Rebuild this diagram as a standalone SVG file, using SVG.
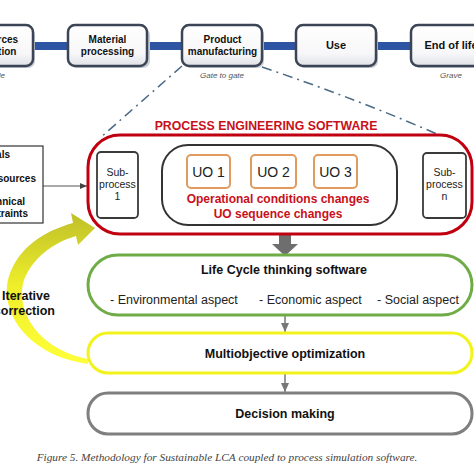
<svg xmlns="http://www.w3.org/2000/svg" width="474" height="474" viewBox="0 0 474 474">
<defs>
<linearGradient id="boxg" x1="0" y1="0" x2="0" y2="1">
<stop offset="0" stop-color="#ffffff"/>
<stop offset="0.7" stop-color="#f7f7f9"/>
<stop offset="1" stop-color="#dfe1e6"/>
</linearGradient>
<linearGradient id="yel" gradientUnits="userSpaceOnUse" x1="0" y1="218" x2="0" y2="368">
<stop offset="0" stop-color="#c2c22a"/>
<stop offset="0.45" stop-color="#eeee2a"/>
<stop offset="1" stop-color="#ffff3a"/>
</linearGradient>
<marker id="ah" markerWidth="8" markerHeight="8" refX="7" refY="4" orient="auto" markerUnits="userSpaceOnUse">
<path d="M0,1 L7,4 L0,7 Z" fill="#444"/>
</marker>
<marker id="ahg" markerWidth="10" markerHeight="10" refX="9" refY="5" orient="auto" markerUnits="userSpaceOnUse">
<path d="M0,1 L9,5 L0,9 Z" fill="#777"/>
</marker>
<marker id="aho" markerWidth="8" markerHeight="8" refX="7" refY="4" orient="auto" markerUnits="userSpaceOnUse">
<path d="M0,1 L7,4 L0,7 Z" fill="#e8914f"/>
</marker>
</defs>
<style>
text{font-family:"Liberation Sans",Arial,sans-serif;fill:#111}
.top{fill:url(#boxg);stroke:#3b4556;stroke-width:2.5}
.sh{fill:#c9ccd3}
.t10{font-size:10px;font-weight:bold}
.t11{font-size:11px;font-weight:bold}
.lab{font-size:8px;font-style:italic;fill:#555}
.sub{fill:#fff;stroke:#3a3a3a;stroke-width:1.8}
.st{font-size:10.5px;fill:#222}
.uo{fill:#fff;stroke:#e39a5f;stroke-width:2}
.uot{font-size:14px;fill:#222}
.red{fill:#c8101a;font-weight:bold}
.big{fill:#fff;stroke-width:3}
.m{font-size:12.5px;font-weight:bold}
.asp{font-size:12.5px;fill:#222}
.lft{font-size:10px;font-weight:bold}
.dd{fill:none;stroke:#4a6a86;stroke-width:1.5;stroke-dasharray:10 5 2 5}
.ln{fill:none;stroke:#555;stroke-width:1}
.cap{font-family:"Liberation Serif","Times New Roman",serif;font-style:italic;font-size:11.3px;fill:#444}
</style>

<g id="connectors">
<rect x="0" y="42" width="474" height="8" fill="#2e54a4"/>
<path class="dd" d="M182,66 L100,138"/>
<path class="dd" d="M262,67 Q360,100 446,138"/>
<path class="ln" d="M43,186 L87,186" marker-end="url(#ah)"/>
<path class="ln" d="M138,185 L161,185" marker-end="url(#ah)"/>
<path class="ln" d="M397,185 L422,185" marker-end="url(#ah)"/>
<path d="M230,172 L250,172" stroke="#e8914f" stroke-width="1.5" marker-end="url(#aho)"/>
<path d="M296,172 L313,172" stroke="#e8914f" stroke-width="1.5" marker-end="url(#aho)"/>
<polygon points="279,234 291,234 291,244 298,244 285,256 272,244 279,244" fill="#6e6e6e"/>
<path d="M285,316 L285,332" stroke="#777" stroke-width="1.5" marker-end="url(#ahg)"/>
<path d="M285,374 L285,392" stroke="#777" stroke-width="1.5" marker-end="url(#ahg)"/>
<path d="M88,364 C28,356 -2,312 9,276 C19,247 44,231 73,223 L71,213 L95,228 L78,245 L76,236 C52,243 33,258 24,280 C14,312 40,350 88,359 Z" fill="url(#yel)"/>
</g>

<g id="resources-extraction">
<rect class="sh" x="-45" y="28" width="80" height="40" rx="7"/>
<rect class="top" x="-47" y="25" width="80" height="41" rx="7"/>
<text class="t10" x="-7.5" y="43" text-anchor="middle">Resources</text>
<text class="t10" x="-7.5" y="55" text-anchor="middle">extraction</text>
<text class="lab" x="5" y="78" text-anchor="end">Cradle</text>
</g>
<g id="material-processing">
<rect class="sh" x="70" y="28" width="80" height="40" rx="7"/>
<rect class="top" x="68" y="25" width="79" height="41" rx="7"/>
<text class="t10" x="107.5" y="43" text-anchor="middle">Material</text>
<text class="t10" x="107.5" y="55" text-anchor="middle">processing</text>
</g>
<g id="product-manufacturing">
<rect class="sh" x="184" y="28" width="80" height="40" rx="7"/>
<rect class="top" x="182" y="25" width="80" height="41" rx="7"/>
<text class="t10" x="222.5" y="43" text-anchor="middle">Product</text>
<text class="t10" x="222.5" y="55" text-anchor="middle">manufacturing</text>
<text class="lab" x="222" y="78" text-anchor="middle">Gate to gate</text>
</g>
<g id="use">
<rect class="sh" x="298" y="28" width="80" height="40" rx="7"/>
<rect class="top" x="296" y="25" width="80" height="41" rx="7"/>
<text class="t11" x="336" y="49" text-anchor="middle">Use</text>
</g>
<g id="end-of-life">
<rect class="sh" x="413" y="28" width="80" height="40" rx="7"/>
<rect class="top" x="411" y="25" width="80" height="41" rx="7"/>
<text class="t11" x="451" y="49" text-anchor="middle">End of life</text>
<text class="lab" x="451" y="78" text-anchor="middle">Grave</text>
</g>

<g id="inputs">
<rect x="-20" y="146" width="63" height="77" fill="#fff" stroke="#333" stroke-width="1.2"/>
<text class="lft" x="10" y="158" text-anchor="end">Materials</text>
<text class="lft" x="36" y="182" text-anchor="end">Resources</text>
<text class="lft" x="25" y="205" text-anchor="end">Technical</text>
<text class="lft" x="28" y="217" text-anchor="end">constraints</text>
</g>

<g id="process-engineering-software">
<text class="red" x="266" y="130" font-size="12.3" text-anchor="middle">PROCESS ENGINEERING SOFTWARE</text>
<rect class="big" x="88" y="135" width="384" height="99" rx="32" stroke="#c00010"/>
</g>
<g id="sub-process-1">
<rect class="sub" x="97" y="152" width="41" height="66" rx="4"/>
<text class="st" x="117.5" y="176" text-anchor="middle">Sub-</text>
<text class="st" x="117.5" y="188" text-anchor="middle">process</text>
<text class="st" x="117.5" y="200" text-anchor="middle">1</text>
</g>
<g id="unit-operations">
<rect x="162" y="145" width="235" height="80" rx="26" fill="#fff" stroke="#333" stroke-width="2"/>
<text class="red" x="278" y="203" font-size="12" text-anchor="middle">Operational conditions changes</text>
<text class="red" x="278" y="218" font-size="12" text-anchor="middle">UO sequence changes</text>
</g>
<g id="uo-1">
<rect class="uo" x="187" y="155" width="43" height="33" rx="4"/>
<text class="uot" x="208.5" y="177" text-anchor="middle">UO 1</text>
</g>
<g id="uo-2">
<rect class="uo" x="251" y="155" width="45" height="33" rx="4"/>
<text class="uot" x="273.5" y="177" text-anchor="middle">UO 2</text>
</g>
<g id="uo-3">
<rect class="uo" x="314" y="155" width="43" height="33" rx="4"/>
<text class="uot" x="335.5" y="177" text-anchor="middle">UO 3</text>
</g>
<g id="sub-process-n">
<rect class="sub" x="423" y="153" width="43" height="65" rx="4"/>
<text class="st" x="444.5" y="176" text-anchor="middle">Sub-</text>
<text class="st" x="444.5" y="188" text-anchor="middle">process</text>
<text class="st" x="444.5" y="200" text-anchor="middle">n</text>
</g>

<g id="life-cycle-thinking">
<rect class="big" x="88" y="255" width="384" height="60" rx="30" stroke="#6fac46"/>
<text class="m" x="284" y="274" text-anchor="middle">Life Cycle thinking software</text>
<text class="asp" x="110" y="304">- Environmental aspect</text>
<text class="asp" x="259" y="304">- Economic aspect</text>
<text class="asp" x="377" y="304">- Social aspect</text>
</g>
<g id="multiobjective-optimization">
<rect class="big" x="88" y="333" width="384" height="40" rx="20" stroke="#f2f21c"/>
<text class="m" x="285" y="358" text-anchor="middle">Multiobjective optimization</text>
</g>
<g id="decision-making">
<rect class="big" x="88" y="393" width="384" height="41" rx="20" stroke="#7f7f7f"/>
<text class="m" x="285" y="418" text-anchor="middle">Decision making</text>
</g>

<g id="iterative-correction">
<text class="m" x="2" y="300">Iterative</text>
<text class="m" x="55" y="315" text-anchor="end">correction</text>
</g>

<text class="cap" x="227" y="461" text-anchor="middle">Figure 5. Methodology for Sustainable LCA coupled to process simulation software.</text>
</svg>
